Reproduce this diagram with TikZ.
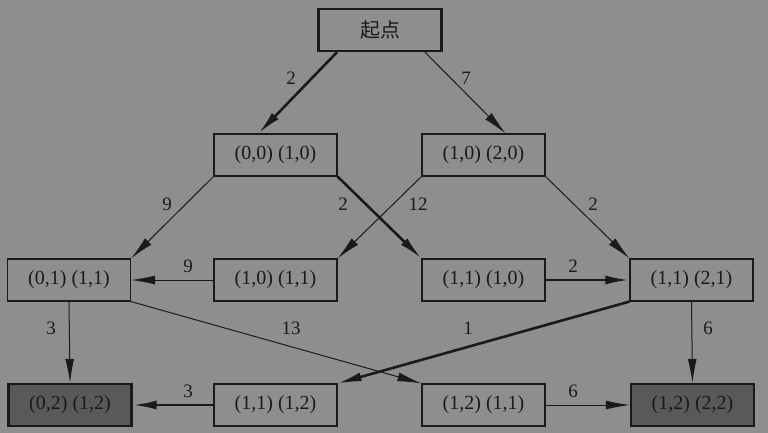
\documentclass[tikz,border=0pt]{standalone}
\usepackage{fontspec}
\setmainfont{Liberation Serif}
\newfontfamily\cjk{Noto Sans CJK SC}
\usetikzlibrary{arrows.meta}
\definecolor{bg}{HTML}{8E8E8E}
\definecolor{ink}{HTML}{1A1A1A}
\definecolor{dark}{HTML}{595959}
\begin{document}
\begin{tikzpicture}[x=1pt,y=-1pt,
  box/.style={draw=ink,line width=1.2pt,minimum width=123pt,minimum height=42pt,inner sep=0pt,font=\fontsize{20}{20}\selectfont,text=ink},
  thickbox/.style={box,line width=2.4pt},
  darkbox/.style={thickbox,fill=dark},
  lbl/.style={font=\fontsize{19}{19}\selectfont,text=ink,inner sep=0pt},
  e/.style={draw=ink,line width=1pt,-{Latex[length=24pt,width=9pt]}},
  te/.style={e,line width=2.6pt}]
\fill[bg] (0,0) rectangle (768,433);
\useasboundingbox (0,0) rectangle (768,433);
\node[thickbox] (s) at (380,30) {\cjk 起点};
\node[box] (a) at (275.5,155) {(0,0) (1,0)};
\node[box] (b) at (483.5,155) {(1,0) (2,0)};
\node[box] (c) at (69,280) {(0,1) (1,1)};
\node[box] (d) at (275.5,280) {(1,0) (1,1)};
\node[box] (f) at (483.5,280) {(1,1) (1,0)};
\node[box] (g) at (691.5,280) {(1,1) (2,1)};
\node[darkbox] (h) at (70,405) {(0,2) (1,2)};
\node[box] (i) at (275.5,405) {(1,1) (1,2)};
\node[box] (j) at (483.5,405) {(1,2) (1,1)};
\node[darkbox] (k) at (692.5,405) {(1,2) (2,2)};
\draw[te] ([xshift=-43pt]s.south) -- ([xshift=-17pt]a.north);
\draw[e] ([xshift=45pt]s.south) -- ([xshift=22pt]b.north);
\draw[e] (a.south west) -- (c.north east);
\draw[te] (a.south east) -- (f.north west);
\draw[e] (b.south west) -- (d.north east);
\draw[e] (b.south east) -- (g.north west);
\draw[e] (d.west) -- (c.east);
\draw[te] (f.east) -- (g.west);
\draw[e] (c.south) -- (h.north);
\draw[e] (c.south east) -- (j.north west);
\draw[te] (g.south west) -- (i.north east);
\draw[e] (g.south) -- (k.north);
\draw[te] (i.west) -- (h.east);
\draw[e] (j.east) -- (k.west);
\node[lbl] (l1) at (291,78) {2};
\node[lbl] (l2) at (466,78) {7};
\node[lbl] (l3) at (167,204) {9};
\node[lbl] (l4) at (343,204) {2};
\node[lbl] (l5) at (418,204) {12};
\node[lbl] (l6) at (593,204) {2};
\node[lbl] (l7) at (188,266) {9};
\node[lbl] (l8) at (573,266) {2};
\node[lbl] (l9) at (51,328) {3};
\node[lbl] (l10) at (291,328) {13};
\node[lbl] (l11) at (468,328) {1};
\node[lbl] (l12) at (708,328) {6};
\node[lbl] (l13) at (188,391) {3};
\node[lbl] (l14) at (573,391) {6};
\end{tikzpicture}
\end{document}
